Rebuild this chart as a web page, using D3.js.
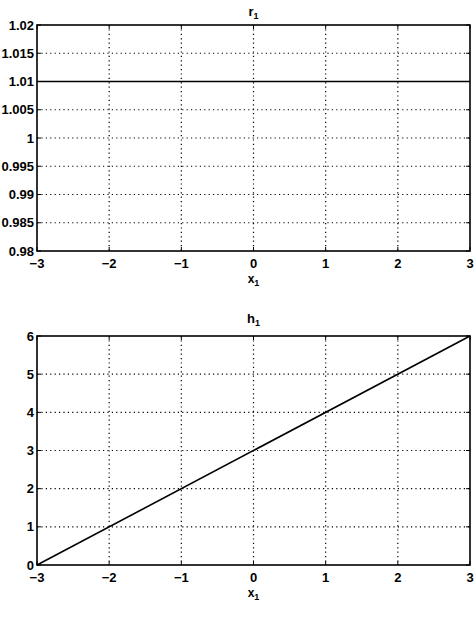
<!DOCTYPE html>
<html><head><meta charset="utf-8">
<script src="https://cdn.jsdelivr.net/npm/d3@7"></script>
<style>body{margin:0;background:#fff}text{font-family:"Liberation Sans",Arial,sans-serif;font-weight:bold;fill:#000}</style>
</head><body><svg id="c" width="474" height="617"></svg>
<script>
const xVals = [-3, 3];
const r1Vals = [1.01, 1.01];
const h1Vals = [0, 6];
const xTicks = [-3, -2, -1, 0, 1, 2, 3];
const r1Ticks = [0.98, 0.985, 0.99, 0.995, 1, 1.005, 1.01, 1.015, 1.02];
const r1TickLabels = ["0.98","0.985","0.99","0.995","1","1.005","1.01","1.015","1.02"];
const h1Ticks = [0, 1, 2, 3, 4, 5, 6];
const xTickLabels = ["\u22123","\u22122","\u22121","0","1","2","3"];

const svg = d3.select("#c");
function panel(cfg){
  const g = svg.append("g");
  const x = d3.scaleLinear().domain([-3,3]).range([cfg.left, cfg.right]);
  const y = d3.scaleLinear().domain(cfg.ydom).range([cfg.bottom, cfg.top]);
  g.selectAll(".gx").data(xTicks.slice(1,-1)).join("line")
    .attr("x1",d=>x(d)).attr("x2",d=>x(d)).attr("y1",cfg.top).attr("y2",cfg.bottom)
    .attr("stroke","#000").attr("stroke-width",1.2).attr("stroke-dasharray","1.2,3.2");
  g.selectAll(".gy").data(cfg.yticks.slice(1,-1)).join("line")
    .attr("y1",d=>y(d)).attr("y2",d=>y(d)).attr("x1",cfg.left).attr("x2",cfg.right)
    .attr("stroke","#000").attr("stroke-width",1.2).attr("stroke-dasharray","1.2,3.2");
  g.append("rect").attr("x",cfg.left).attr("y",cfg.top).attr("width",cfg.right-cfg.left).attr("height",cfg.bottom-cfg.top)
    .attr("fill","none").attr("stroke","#000").attr("stroke-width",1.6);
  g.selectAll(".tb").data(xTicks).join("line")
    .attr("x1",d=>x(d)).attr("x2",d=>x(d)).attr("y1",cfg.bottom).attr("y2",cfg.bottom-4).attr("stroke","#000");
  g.selectAll(".tt").data(xTicks).join("line")
    .attr("x1",d=>x(d)).attr("x2",d=>x(d)).attr("y1",cfg.top).attr("y2",cfg.top+4).attr("stroke","#000");
  g.selectAll(".tl").data(cfg.yticks).join("line")
    .attr("y1",d=>y(d)).attr("y2",d=>y(d)).attr("x1",cfg.left).attr("x2",cfg.left+4).attr("stroke","#000");
  g.selectAll(".tr").data(cfg.yticks).join("line")
    .attr("y1",d=>y(d)).attr("y2",d=>y(d)).attr("x1",cfg.right).attr("x2",cfg.right-4).attr("stroke","#000");
  g.selectAll(".xl").data(xTicks).join("text")
    .attr("x",d=>x(d)).attr("y",cfg.bottom+17).attr("text-anchor","middle").attr("font-size",13)
    .text((d,i)=>xTickLabels[i]);
  g.selectAll(".yl").data(cfg.yticks).join("text")
    .attr("x",cfg.left-3).attr("y",d=>y(d)+4.5).attr("text-anchor","end").attr("font-size",13)
    .text((d,i)=>cfg.ylabels[i]);
  const line = d3.line().x(d=>x(d[0])).y(d=>y(d[1]));
  g.append("path").datum(xVals.map((v,i)=>[v,cfg.vals[i]])).attr("d",line)
    .attr("fill","none").attr("stroke","#000").attr("stroke-width",1.6);
  const t = g.append("text").attr("x",(cfg.left+cfg.right)/2).attr("y",cfg.top-cfg.titleGap).attr("text-anchor","middle").attr("font-size",13).attr("font-weight","normal");
  t.append("tspan").text(cfg.title);
  t.append("tspan").attr("font-size",9).attr("dy",3).text("1");
  const xl = g.append("text").attr("x",(cfg.left+cfg.right)/2).attr("y",cfg.bottom+32).attr("text-anchor","middle").attr("font-size",12);
  xl.append("tspan").text("x");
  xl.append("tspan").attr("font-size",9).attr("dy",3).text("1");
}
panel({left:37,right:470,top:25,bottom:251,ydom:[0.98,1.02],yticks:r1Ticks,ylabels:r1TickLabels,vals:r1Vals,title:"r",titleGap:9});
panel({left:37,right:470,top:336,bottom:565,ydom:[0,6],yticks:h1Ticks,ylabels:h1Ticks.map(String),vals:h1Vals,title:"h",titleGap:13});
</script></body></html>
